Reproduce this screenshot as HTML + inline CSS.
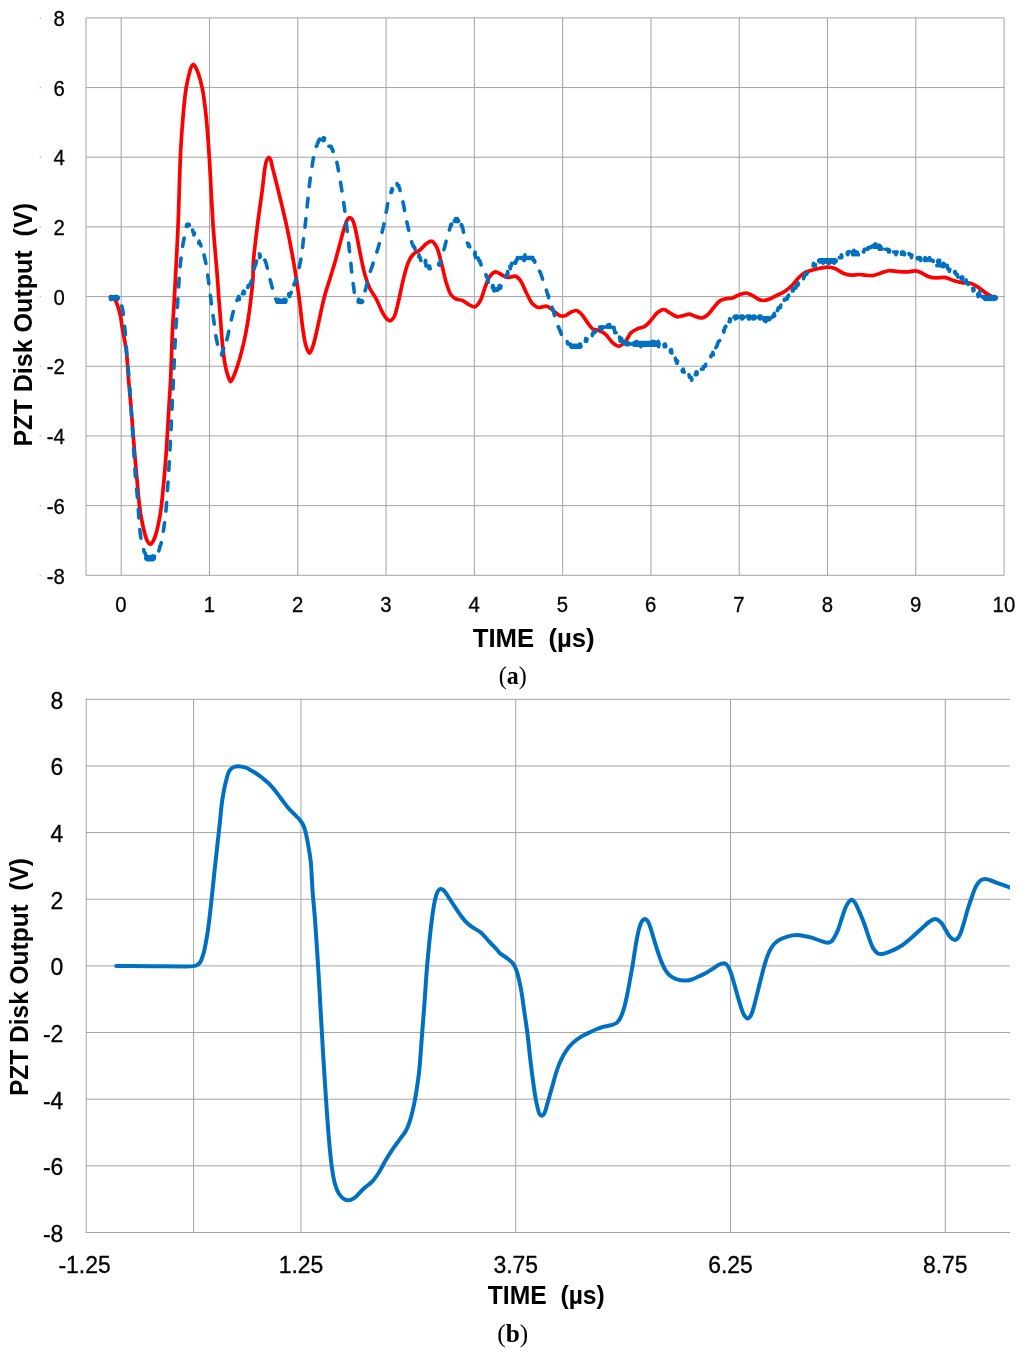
<!DOCTYPE html>
<html lang="en"><head><meta charset="utf-8"><title>PZT Disk Output</title>
<style>html,body{margin:0;padding:0;background:#fff}svg{display:block}</style></head>
<body>
<svg width="1024" height="1357" viewBox="0 0 1024 1357">
<rect width="1024" height="1357" fill="#fff"/>
<path d="M86.00 575.32H1004.10M86.00 505.64H1004.10M86.00 435.96H1004.10M86.00 366.28H1004.10M86.00 296.60H1004.10M86.00 226.92H1004.10M86.00 157.24H1004.10M86.00 87.56H1004.10M86.00 17.88H1004.10M121.20 17.90V575.30M209.49 17.90V575.30M297.78 17.90V575.30M386.07 17.90V575.30M474.36 17.90V575.30M562.65 17.90V575.30M650.94 17.90V575.30M739.23 17.90V575.30M827.52 17.90V575.30M915.81 17.90V575.30M1004.10 17.90V575.30M86.00 17.90V575.30" fill="none" stroke="#a3a3a3" stroke-width="1"/>
<path d="M86.00 1232.50H1010.00M86.00 1165.85H1010.00M86.00 1099.20H1010.00M86.00 1032.55H1010.00M86.00 965.90H1010.00M86.00 899.25H1010.00M86.00 832.60H1010.00M86.00 765.95H1010.00M86.00 699.30H1010.00M86.22 699.30V1232.50M193.60 699.30V1232.50M300.98 699.30V1232.50M515.73 699.30V1232.50M730.48 699.30V1232.50M945.23 699.30V1232.50" fill="none" stroke="#a3a3a3" stroke-width="1"/>
<clipPath id="cb"><rect x="86.0" y="694.3" width="924.0" height="543.2"/></clipPath>
<path d="M110.3 296.8C111.2 297.2 112.2 297.4 113.0 298.0C113.9 298.6 114.8 299.4 115.5 300.5C116.5 302.1 117.2 304.6 118.0 307.0C118.9 309.7 119.8 312.8 120.5 316.0C121.3 319.7 121.5 323.4 122.3 328.0C123.3 334.2 125.2 342.1 126.2 350.0C127.4 359.2 127.8 370.3 128.6 380.0C129.4 389.1 130.2 397.5 131.0 406.5C131.8 415.9 132.5 426.2 133.2 435.4C133.9 443.8 134.5 451.4 135.2 459.6C135.9 468.2 136.8 478.0 137.6 486.1C138.2 493.0 138.7 499.2 139.4 505.1C140.0 510.2 140.7 514.7 141.6 519.3C142.4 523.8 143.5 528.7 144.5 532.5C145.3 535.5 146.0 538.4 147.1 540.5C148.0 542.1 149.1 544.2 150.2 544.2C151.3 544.2 152.6 542.1 153.5 540.5C154.7 538.4 155.5 535.5 156.4 532.5C157.5 528.7 158.5 523.8 159.3 519.3C160.2 514.7 160.9 510.2 161.5 505.1C162.2 499.2 162.8 493.0 163.4 486.1C164.2 478.0 165.0 468.2 165.7 459.6C166.3 451.4 166.8 443.8 167.3 435.4C167.9 426.2 168.4 415.9 169.0 406.5C169.5 397.5 170.1 390.2 170.6 380.0C171.3 366.0 171.8 345.0 172.5 330.0C173.1 317.6 173.8 309.5 174.5 296.2C175.5 277.3 177.0 250.7 178.0 227.0C179.1 202.0 179.6 171.1 180.7 150.0C181.5 135.3 182.4 123.7 183.4 112.5C184.2 103.4 185.0 95.0 186.2 87.9C187.1 82.4 188.3 77.2 189.3 73.4C190.0 70.8 190.4 68.6 191.2 67.0C191.8 65.8 192.5 64.3 193.2 64.3C193.9 64.3 194.8 65.8 195.5 67.0C196.5 68.6 197.4 70.8 198.3 73.4C199.6 77.2 201.1 82.4 202.2 87.9C203.7 95.0 204.7 103.4 205.7 112.5C207.0 123.7 207.8 135.3 208.8 150.0C210.3 171.1 211.7 205.1 213.2 227.0C214.4 243.4 215.8 257.4 216.8 270.0C217.6 279.8 218.1 288.0 218.7 296.3C219.3 303.9 219.9 310.9 220.4 317.9C220.9 324.5 221.3 331.0 221.8 337.0C222.3 342.4 222.7 347.4 223.3 352.4C223.9 357.1 224.6 362.0 225.4 366.1C226.1 369.5 226.8 372.7 227.8 375.4C228.6 377.7 229.6 381.6 230.7 381.6C231.7 381.6 233.0 377.7 234.0 375.4C235.2 372.7 236.3 369.5 237.4 366.1C238.7 362.0 240.2 357.1 241.4 352.4C242.7 347.4 243.9 342.4 245.0 337.0C246.2 331.0 247.4 324.5 248.4 317.9C249.5 310.9 250.4 303.0 251.2 296.3C251.9 290.4 252.5 285.2 252.9 279.6C253.3 274.0 252.9 269.4 253.3 262.7C254.0 252.9 255.8 238.7 257.3 226.6C258.8 214.2 261.0 199.9 262.4 189.0C263.5 180.7 264.1 172.2 265.1 166.9C265.6 163.9 266.0 161.7 266.8 160.0C267.4 158.8 268.1 157.3 268.8 157.3C269.4 157.3 270.1 158.5 270.6 159.5C271.4 161.2 271.7 164.4 272.3 166.9C272.9 169.3 273.5 171.3 274.2 174.2C275.2 178.3 276.4 182.9 277.9 189.0C280.3 198.7 284.1 214.2 286.8 226.6C289.4 238.7 291.6 250.8 293.7 262.7C295.7 274.2 297.4 285.4 299.0 296.7C300.5 307.8 301.6 320.9 303.0 330.0C304.0 336.3 304.6 341.8 306.0 346.0C307.0 349.0 308.3 353.2 309.5 353.2C310.7 353.2 311.9 349.0 313.0 346.0C314.5 341.8 315.5 336.3 317.0 330.0C319.1 320.9 321.9 306.2 324.4 296.7C326.3 289.4 328.5 283.5 330.3 277.5C331.9 272.2 333.3 267.9 334.8 262.7C336.4 257.1 338.0 251.0 339.6 245.0C341.3 238.9 343.1 231.3 344.7 226.6C345.7 223.6 346.4 221.0 347.5 219.5C348.2 218.6 348.9 217.6 349.7 217.6C350.5 217.6 351.6 218.5 352.3 219.5C353.5 221.2 354.1 224.1 355.0 227.5C356.6 233.5 358.3 244.4 360.0 252.5C361.6 260.2 363.1 268.5 365.0 275.0C366.5 280.2 368.0 284.6 370.0 288.8C371.8 292.5 374.3 295.1 376.2 298.8C378.5 302.9 380.3 308.8 382.5 312.5C384.1 315.3 386.0 318.2 387.5 319.5C388.4 320.2 389.1 320.8 390.0 320.8C391.2 320.8 392.6 319.3 393.8 317.5C395.9 314.1 397.2 306.2 398.8 300.0C400.5 293.0 401.9 284.4 403.8 277.5C405.3 271.6 406.7 265.5 408.8 261.2C410.2 258.1 411.7 255.7 413.8 253.8C415.6 252.0 418.0 251.6 420.0 250.0C422.2 248.3 424.2 245.3 426.2 243.8C427.9 242.6 429.7 241.2 431.2 241.2C433.0 241.2 434.8 243.9 436.2 246.2C438.5 249.9 439.7 256.8 441.2 262.5C443.0 268.8 444.4 276.7 446.2 282.5C447.8 287.2 449.1 292.2 451.2 295.0C452.7 297.0 454.4 298.1 456.2 299.0C458.1 299.9 460.5 299.6 462.5 300.5C464.7 301.4 466.7 303.4 468.8 304.5C470.6 305.5 472.5 307.0 474.2 307.0C476.3 307.0 478.4 303.8 480.0 301.2C482.2 297.8 483.3 291.8 485.0 287.5C486.6 283.5 487.9 279.0 490.0 276.2C491.6 274.2 493.6 271.8 495.5 271.8C497.3 271.8 499.3 273.6 501.2 274.5C503.3 275.5 505.3 277.5 507.5 277.5C509.8 277.5 512.8 276.2 515.0 276.2C517.0 276.2 518.4 278.1 520.0 280.0C522.3 282.8 524.1 288.5 526.2 292.5C528.3 296.4 530.0 301.2 532.5 303.8C534.4 305.7 536.5 307.5 538.8 307.5C541.1 307.5 543.9 306.2 546.2 306.2C548.5 306.2 550.4 308.5 552.5 310.0C554.9 311.7 557.6 314.9 560.0 315.8C561.7 316.3 563.3 316.2 565.0 315.8C567.0 315.2 569.2 312.9 571.2 312.0C573.0 311.2 574.6 310.5 576.2 310.5C578.0 310.5 579.6 312.2 581.2 313.8C583.4 315.8 585.5 319.9 587.5 322.5C589.2 324.8 590.5 327.4 592.5 328.8C594.3 329.9 596.7 329.7 598.8 330.5C600.9 331.3 603.0 332.1 605.0 333.8C607.6 335.8 609.9 340.3 612.5 342.5C614.5 344.2 616.7 346.2 618.8 346.2C620.9 346.2 623.1 343.9 625.0 342.0C627.3 339.6 628.9 334.8 631.2 332.5C633.1 330.7 635.3 329.8 637.5 328.8C639.8 327.7 642.8 327.6 645.0 326.2C647.4 324.8 649.2 322.2 651.2 320.0C653.4 317.7 655.2 314.3 657.5 312.5C659.4 311.0 661.7 309.5 663.8 309.5C665.9 309.5 667.8 311.8 670.0 313.0C672.4 314.3 675.1 316.8 677.5 316.8C679.6 316.8 681.7 315.9 683.8 315.5C685.6 315.1 687.4 314.2 689.2 314.2C691.2 314.2 693.0 315.6 695.0 316.2C697.0 316.9 699.2 318.0 701.2 318.0C703.4 318.0 705.6 316.5 707.5 315.0C709.8 313.2 711.6 309.9 713.8 307.5C715.8 305.2 717.7 302.2 720.0 300.8C721.9 299.5 724.1 299.2 726.2 298.8C728.3 298.3 730.4 298.6 732.5 298.0C734.9 297.3 737.6 295.3 740.0 294.5C742.1 293.8 744.2 293.0 746.2 293.0C748.4 293.0 750.5 294.5 752.5 295.5C754.6 296.6 756.7 298.7 758.8 299.5C760.4 300.2 762.0 300.5 763.8 300.5C765.7 300.5 767.9 299.6 770.0 298.8C772.4 297.8 775.0 296.2 777.5 295.0C780.0 293.8 782.6 292.8 785.0 291.2C787.6 289.5 790.2 287.3 792.5 285.0C794.8 282.7 796.6 279.7 798.8 277.5C800.7 275.5 802.7 273.8 805.0 272.5C807.3 271.3 810.0 270.7 812.5 270.0C815.0 269.3 817.4 268.7 820.0 268.2C822.6 267.8 825.4 267.2 828.0 267.2C830.4 267.2 832.6 267.7 835.0 268.6C837.8 269.6 840.7 272.3 843.8 273.4C846.6 274.4 849.8 275.2 852.5 275.2C854.8 275.2 856.8 274.5 859.0 274.5C861.2 274.5 863.4 275.0 865.6 275.2C867.8 275.4 869.9 275.6 872.2 275.6C874.9 275.6 878.0 273.8 880.9 273.0C883.8 272.2 886.8 270.6 889.7 270.6C892.6 270.6 895.5 271.5 898.4 271.7C901.3 271.9 904.4 271.9 907.2 271.9C909.8 271.9 912.5 270.8 914.8 270.8C916.8 270.8 918.3 271.5 920.3 272.3C922.9 273.3 926.2 275.8 929.0 276.7C931.3 277.5 933.2 277.8 935.6 277.8C938.3 277.8 941.5 277.4 944.4 277.4C947.3 277.4 950.2 279.5 953.1 280.4C956.0 281.3 959.0 282.1 961.9 282.6C964.8 283.1 968.0 282.6 970.6 283.3C973.0 284.0 974.9 285.2 977.2 286.6C980.0 288.3 983.2 291.3 986.0 293.1C988.3 294.6 990.6 296.0 992.5 296.8C993.9 297.4 995.0 297.5 996.2 297.9" fill="none" stroke="#ff0000" stroke-width="3.7" stroke-linecap="round" stroke-linejoin="round"/>
<path d="M110.5 299.4L110.9 296.6L111.4 299.4L111.8 296.6L112.3 296.6L112.7 296.6L113.1 296.6L113.6 296.6L114.0 296.6L114.5 302.2L114.9 296.6L115.4 296.6L115.8 296.6L116.2 296.6L116.7 296.6L117.1 296.6L117.6 299.4L118.0 296.6L118.4 299.4L118.9 299.4L119.3 299.4L119.8 301.9L120.2 302.1L120.6 302.6L121.1 304.4L121.5 305.5L122.0 306.9L122.4 308.6L122.9 310.9L123.3 314.7L123.7 319.5L124.2 323.0L124.6 326.5L125.1 330.7L125.5 335.9L125.9 341.8L126.4 348.0L126.8 354.1L127.3 359.6L127.7 364.5L128.2 368.8L128.6 373.2L129.0 378.0L129.5 383.6L129.9 389.8L130.4 396.4L130.8 403.3L131.2 410.3L131.7 417.5L132.1 424.6L132.6 431.7L133.0 438.6L133.4 445.8L133.9 453.1L134.3 460.3L134.8 466.9L135.2 473.0L135.7 478.3L136.1 483.2L136.5 487.9L137.0 492.5L137.4 497.1L137.9 502.1L138.3 508.0L138.7 516.1L139.2 523.4L139.6 528.1L140.1 531.9L140.5 535.1L140.9 537.8L141.4 540.2L141.8 542.3L142.3 544.3L142.7 546.0L143.2 547.6L143.6 548.7L144.0 551.4L144.5 552.4L144.9 553.0L145.4 553.4L145.8 555.6L146.2 555.7L146.7 558.4L147.1 558.5L147.6 558.5L148.0 558.5L148.5 558.5L148.9 558.5L149.3 561.3L149.8 558.5L150.2 558.5L150.7 558.5L151.1 558.5L151.5 558.5L152.0 558.5L152.4 555.7L152.9 558.5L153.3 558.5L153.7 558.5L154.2 558.5L154.6 555.7L155.1 555.7L155.5 555.7L156.0 555.7L156.4 553.0L156.8 553.0L157.3 552.9L157.7 552.7L158.2 550.3L158.6 552.2L159.0 549.8L159.5 549.2L159.9 546.1L160.4 545.6L160.8 544.5L161.2 542.8L161.7 540.8L162.1 538.4L162.6 535.7L163.0 533.0L163.5 530.4L163.9 527.5L164.3 524.5L164.8 521.1L165.2 517.4L165.7 513.3L166.1 508.6L166.5 503.3L167.0 497.1L167.4 490.3L167.9 483.6L168.3 476.9L168.8 470.1L169.2 463.0L169.6 455.5L170.1 447.5L170.5 439.0L171.0 430.3L171.4 421.1L171.8 411.9L172.3 402.8L172.7 393.9L173.2 384.9L173.6 375.6L174.0 365.7L174.5 355.7L174.9 346.0L175.4 337.0L175.8 328.9L176.3 322.1L176.7 316.0L177.1 310.0L177.6 303.9L178.0 297.0L178.5 289.8L178.9 282.7L179.3 276.1L179.8 270.3L180.2 265.2L180.7 261.0L181.1 257.1L181.5 253.5L182.0 250.3L182.4 247.4L182.9 244.7L183.3 242.2L183.8 240.0L184.2 237.6L184.6 234.9L185.1 232.3L185.5 229.9L186.0 228.0L186.4 226.4L186.8 224.5L187.3 226.3L187.7 224.1L188.2 224.2L188.6 224.2L189.1 224.2L189.5 227.0L189.9 227.0L190.4 229.7L190.8 227.0L191.3 227.0L191.7 229.6L192.1 229.7L192.6 229.8L193.0 232.3L193.5 232.5L193.9 235.0L194.3 232.7L194.8 235.2L195.2 235.3L195.7 235.4L196.1 235.4L196.6 235.5L197.0 238.1L197.4 240.7L197.9 240.8L198.3 240.8L198.8 243.4L199.2 241.0L199.6 243.5L200.1 243.7L200.5 243.9L201.0 246.1L201.4 245.0L201.8 248.5L202.3 249.2L202.7 251.0L203.2 252.0L203.6 253.4L204.1 255.2L204.5 257.0L204.9 258.9L205.4 260.9L205.8 262.9L206.3 265.1L206.7 267.4L207.1 270.3L207.6 273.7L208.0 277.2L208.5 280.4L208.9 283.8L209.4 287.3L209.8 290.8L210.2 294.3L210.7 297.6L211.1 301.0L211.6 304.3L212.0 307.6L212.4 310.9L212.9 314.1L213.3 317.3L213.8 320.6L214.2 324.0L214.6 327.4L215.1 330.7L215.5 333.7L216.0 336.3L216.4 338.7L216.9 341.1L217.3 343.3L217.7 345.3L218.2 347.0L218.6 347.9L219.1 349.6L219.5 351.9L219.9 352.2L220.4 352.3L220.8 352.3L221.3 352.3L221.7 355.1L222.1 352.3L222.6 352.3L223.0 349.6L223.5 349.5L223.9 347.4L224.4 348.7L224.8 346.6L225.2 344.7L225.7 343.9L226.1 342.1L226.6 340.9L227.0 339.3L227.4 337.4L227.9 335.4L228.3 333.4L228.8 331.3L229.2 329.3L229.7 327.2L230.1 325.2L230.5 323.2L231.0 321.3L231.4 319.4L231.9 317.4L232.3 315.5L232.7 313.8L233.2 311.9L233.6 310.5L234.1 308.7L234.5 307.6L234.9 305.6L235.4 304.8L235.8 304.1L236.3 302.1L236.7 301.8L237.2 299.5L237.6 299.3L238.0 299.3L238.5 296.6L238.9 296.6L239.4 299.4L239.8 296.6L240.2 296.6L240.7 296.6L241.1 296.6L241.6 293.8L242.0 291.0L242.4 293.8L242.9 293.8L243.3 291.0L243.8 291.0L244.2 293.8L244.7 291.0L245.1 291.0L245.5 291.0L246.0 291.0L246.4 288.2L246.9 291.0L247.3 291.0L247.7 288.2L248.2 285.6L248.6 285.6L249.1 285.5L249.5 285.4L250.0 285.1L250.4 283.0L250.8 282.5L251.3 281.6L251.7 279.7L252.2 277.7L252.6 275.6L253.0 273.5L253.5 271.8L253.9 269.9L254.4 267.9L254.8 266.5L255.2 265.5L255.7 264.7L256.1 262.9L256.6 260.8L257.0 260.3L257.5 260.1L257.9 257.7L258.3 257.6L258.8 254.8L259.2 252.0L259.7 257.6L260.1 254.8L260.5 257.6L261.0 254.8L261.4 254.8L261.9 254.8L262.3 254.8L262.7 254.8L263.2 257.6L263.6 257.5L264.1 257.7L264.5 259.9L265.0 260.3L265.4 260.9L265.8 262.7L266.3 263.8L266.7 266.0L267.2 267.4L267.6 269.5L268.0 271.5L268.5 273.5L268.9 275.3L269.4 277.0L269.8 278.7L270.3 280.3L270.7 282.1L271.1 283.0L271.6 285.2L272.0 287.0L272.5 288.2L272.9 289.3L273.3 291.1L273.8 293.1L274.2 294.2L274.7 294.8L275.1 296.8L275.5 299.1L276.0 299.3L276.4 299.4L276.9 302.2L277.3 302.2L277.8 299.4L278.2 299.4L278.6 302.2L279.1 302.2L279.5 302.2L280.0 302.2L280.4 302.2L280.8 302.2L281.3 302.2L281.7 302.2L282.2 299.4L282.6 302.2L283.0 302.2L283.5 302.2L283.9 302.2L284.4 299.4L284.8 299.4L285.3 299.4L285.7 302.2L286.1 299.4L286.6 299.4L287.0 296.6L287.5 296.6L287.9 299.3L288.3 296.6L288.8 293.9L289.2 296.5L289.7 296.4L290.1 293.8L290.6 293.7L291.0 293.5L291.4 291.0L291.9 290.8L292.3 288.5L292.8 290.3L293.2 287.9L293.6 287.5L294.1 283.7L294.5 284.8L295.0 282.8L295.4 280.9L295.8 280.1L296.3 279.1L296.7 277.2L297.2 275.5L297.6 274.0L298.1 272.3L298.5 270.5L298.9 268.7L299.4 266.8L299.8 264.7L300.3 262.5L300.7 260.1L301.1 257.6L301.6 254.9L302.0 251.8L302.5 248.4L302.9 244.6L303.3 240.7L303.8 237.0L304.2 233.2L304.7 229.4L305.1 225.6L305.6 221.6L306.0 217.6L306.4 213.4L306.9 209.1L307.3 204.7L307.8 200.5L308.2 196.4L308.6 192.3L309.1 188.2L309.5 184.3L310.0 180.5L310.4 177.0L310.9 173.9L311.3 170.9L311.7 168.0L312.2 165.3L312.6 162.7L313.1 160.2L313.5 157.9L313.9 155.8L314.4 153.9L314.8 152.0L315.3 150.0L315.7 148.6L316.1 146.7L316.6 145.9L317.0 145.5L317.5 143.5L317.9 143.2L318.4 140.7L318.8 140.6L319.2 140.6L319.7 137.8L320.1 140.6L320.6 137.8L321.0 137.8L321.4 137.8L321.9 137.8L322.3 140.6L322.8 140.6L323.2 137.8L323.6 137.8L324.1 140.6L324.5 137.8L325.0 137.8L325.4 140.6L325.9 140.6L326.3 140.6L326.7 143.4L327.2 143.4L327.6 143.4L328.1 143.4L328.5 143.4L328.9 146.2L329.4 146.2L329.8 146.2L330.3 146.2L330.7 146.2L331.1 146.2L331.6 148.9L332.0 148.9L332.5 149.0L332.9 151.4L333.4 151.5L333.8 151.8L334.2 152.3L334.7 154.3L335.1 155.3L335.6 157.2L336.0 158.8L336.4 160.5L336.9 162.3L337.3 164.5L337.8 166.8L338.2 169.2L338.7 171.7L339.1 174.2L339.5 176.6L340.0 179.1L340.4 181.7L340.9 184.3L341.3 186.9L341.7 189.6L342.2 192.4L342.6 195.2L343.1 198.2L343.5 201.2L343.9 204.3L344.4 207.6L344.8 210.9L345.3 214.3L345.7 217.8L346.2 221.4L346.6 225.2L347.0 229.1L347.5 233.1L347.9 237.0L348.4 240.8L348.8 244.6L349.2 248.4L349.7 252.2L350.1 256.1L350.6 260.3L351.0 264.7L351.4 269.2L351.9 273.3L352.3 277.0L352.8 280.4L353.2 284.0L353.7 287.3L354.1 290.4L354.5 293.0L355.0 295.1L355.4 296.8L355.9 298.6L356.3 299.5L356.7 299.6L357.2 302.2L357.6 302.2L358.1 302.2L358.5 299.4L359.0 299.4L359.4 302.2L359.8 302.2L360.3 302.2L360.7 302.2L361.2 302.2L361.6 302.2L362.0 302.1L362.5 301.7L362.9 299.4L363.4 298.5L363.8 296.2L364.2 294.1L364.7 292.2L365.1 290.8L365.6 289.4L366.0 287.7L366.5 285.7L366.9 284.1L367.3 282.5L367.8 280.9L368.2 279.1L368.7 277.3L369.1 275.4L369.5 274.1L370.0 272.3L370.4 271.2L370.9 269.4L371.3 268.5L371.7 267.7L372.2 265.9L372.6 265.2L373.1 263.2L373.5 262.5L374.0 260.6L374.4 259.9L374.8 259.1L375.3 257.2L375.7 255.3L376.2 254.5L376.6 252.7L377.0 251.7L377.5 249.8L377.9 248.7L378.4 246.9L378.8 245.5L379.3 243.7L379.7 241.9L380.1 240.3L380.6 238.5L381.0 236.7L381.5 234.8L381.9 233.0L382.3 231.1L382.8 229.2L383.2 227.3L383.7 225.4L384.1 223.4L384.5 221.2L385.0 218.9L385.4 216.5L385.9 214.0L386.3 211.4L386.8 208.9L387.2 206.5L387.6 204.2L388.1 202.1L388.5 200.2L389.0 198.4L389.4 197.2L389.8 195.7L390.3 195.0L390.7 193.2L391.2 191.2L391.6 192.4L392.0 188.5L392.5 190.1L392.9 187.9L393.4 187.9L393.8 185.2L394.3 185.2L394.7 185.2L395.1 185.2L395.6 185.2L396.0 185.2L396.5 185.2L396.9 182.4L397.3 185.2L397.8 185.2L398.2 185.2L398.7 185.4L399.1 187.9L399.6 188.2L400.0 190.1L400.4 191.8L400.9 192.9L401.3 194.8L401.8 196.8L402.2 198.7L402.6 200.6L403.1 202.6L403.5 204.7L404.0 206.9L404.4 209.3L404.8 211.7L405.3 214.1L405.7 216.5L406.2 218.8L406.6 221.0L407.1 223.1L407.5 225.0L407.9 226.8L408.4 228.7L408.8 230.6L409.3 232.5L409.7 234.4L410.1 236.1L410.6 237.9L411.0 239.7L411.5 241.0L411.9 242.9L412.3 243.8L412.8 244.4L413.2 246.4L413.7 246.8L414.1 247.0L414.6 247.1L415.0 249.4L415.4 251.9L415.9 252.0L416.3 252.0L416.8 252.1L417.2 254.8L417.6 254.8L418.1 254.8L418.5 257.6L419.0 254.8L419.4 257.6L419.9 257.6L420.3 257.6L420.7 260.4L421.2 260.4L421.6 257.6L422.1 260.4L422.5 260.4L422.9 260.4L423.4 260.4L423.8 260.4L424.3 263.2L424.7 263.2L425.1 263.2L425.6 260.4L426.0 266.0L426.5 260.4L426.9 263.2L427.4 266.0L427.8 266.0L428.2 266.0L428.7 266.0L429.1 268.7L429.6 266.0L430.0 268.7L430.4 268.7L430.9 268.7L431.3 268.7L431.8 268.7L432.2 268.7L432.6 268.7L433.1 268.7L433.5 268.7L434.0 268.7L434.4 268.7L434.9 268.7L435.3 268.7L435.7 268.7L436.2 268.7L436.6 266.0L437.1 266.0L437.5 266.0L437.9 266.0L438.4 266.0L438.8 263.2L439.3 263.3L439.7 265.3L440.2 261.2L440.6 260.9L441.0 259.1L441.5 258.3L441.9 256.4L442.4 255.1L442.8 253.2L443.2 251.8L443.7 250.5L444.1 248.8L444.6 247.6L445.0 245.8L445.4 244.0L445.9 242.2L446.3 240.4L446.8 239.1L447.2 237.8L447.7 236.0L448.1 234.8L448.5 233.6L449.0 231.9L449.4 230.1L449.9 228.0L450.3 226.9L450.7 224.8L451.2 226.0L451.6 224.0L452.1 221.5L452.5 221.4L452.9 221.4L453.4 218.6L453.8 221.4L454.3 221.4L454.7 221.4L455.2 221.4L455.6 218.6L456.0 218.6L456.5 221.4L456.9 221.4L457.4 218.6L457.8 221.4L458.2 221.4L458.7 224.2L459.1 224.2L459.6 224.2L460.0 224.2L460.5 224.2L460.9 226.8L461.3 224.6L461.8 225.0L462.2 227.4L462.7 227.9L463.1 230.1L463.5 232.2L464.0 232.9L464.4 235.0L464.9 235.8L465.3 237.8L465.7 238.4L466.2 240.4L466.6 240.9L467.1 241.2L467.5 243.4L468.0 243.7L468.4 246.1L468.8 244.1L469.3 246.5L469.7 246.6L470.2 249.1L470.6 249.2L471.0 249.3L471.5 249.2L471.9 252.0L472.4 252.0L472.8 252.0L473.2 254.8L473.7 254.8L474.1 254.8L474.6 254.8L475.0 252.0L475.5 257.6L475.9 254.8L476.3 254.8L476.8 257.6L477.2 254.9L477.7 257.6L478.1 257.7L478.5 260.3L479.0 260.4L479.4 260.5L479.9 260.7L480.3 263.2L480.8 263.3L481.2 265.7L481.6 265.9L482.1 266.1L482.5 266.4L483.0 268.7L483.4 271.0L483.8 271.3L484.3 271.6L484.7 273.8L485.2 274.2L485.6 274.5L486.0 274.8L486.5 277.0L486.9 277.3L487.4 277.6L487.8 279.8L488.3 282.2L488.7 280.3L489.1 282.7L489.6 282.8L490.0 285.3L490.5 285.4L490.9 285.5L491.3 285.5L491.8 288.2L492.2 288.2L492.7 285.5L493.1 285.5L493.5 288.2L494.0 291.0L494.4 291.0L494.9 291.0L495.3 288.2L495.8 288.2L496.2 291.0L496.6 291.0L497.1 291.0L497.5 288.2L498.0 288.2L498.4 288.2L498.8 288.2L499.3 285.5L499.7 285.5L500.2 285.5L500.6 288.2L501.1 285.5L501.5 282.7L501.9 282.7L502.4 282.7L502.8 282.6L503.3 280.2L503.7 280.1L504.1 279.9L504.6 279.6L505.0 277.3L505.5 277.0L505.9 276.8L506.3 276.6L506.8 274.2L507.2 274.1L507.7 271.6L508.1 273.8L508.6 269.0L509.0 271.3L509.4 268.8L509.9 266.2L510.3 268.6L510.8 266.0L511.2 266.0L511.6 263.2L512.1 266.0L512.5 263.2L513.0 263.2L513.4 263.2L513.8 263.2L514.3 260.4L514.7 263.2L515.2 263.2L515.6 263.2L516.1 260.4L516.5 260.4L516.9 260.4L517.4 257.6L517.8 257.6L518.3 257.6L518.7 257.6L519.1 260.4L519.6 260.4L520.0 257.6L520.5 257.6L520.9 257.6L521.4 257.6L521.8 257.6L522.2 257.6L522.7 257.6L523.1 257.6L523.6 257.6L524.0 260.4L524.4 260.4L524.9 254.8L525.3 260.4L525.8 257.6L526.2 257.6L526.6 257.6L527.1 257.6L527.5 257.6L528.0 257.6L528.4 257.6L528.9 257.6L529.3 257.6L529.7 257.6L530.2 257.6L530.6 257.6L531.1 257.6L531.5 257.6L531.9 257.6L532.4 257.6L532.8 257.6L533.3 260.4L533.7 260.4L534.1 260.4L534.6 260.4L535.0 263.2L535.5 263.2L535.9 263.2L536.4 263.2L536.8 263.3L537.2 265.9L537.7 266.0L538.1 266.3L538.6 268.6L539.0 268.9L539.4 271.1L539.9 271.5L540.3 272.0L540.8 274.1L541.2 274.6L541.7 276.6L542.1 277.2L542.5 279.1L543.0 279.9L543.4 280.7L543.9 282.6L544.3 284.5L544.7 285.4L545.2 287.3L545.6 288.1L546.1 289.0L546.5 290.9L546.9 291.7L547.4 293.6L547.8 295.5L548.3 295.2L548.7 298.2L549.2 297.9L549.6 299.8L550.0 301.7L550.5 303.6L550.9 304.4L551.4 304.1L551.8 306.0L552.2 307.9L552.7 308.7L553.1 310.6L553.6 311.4L554.0 313.3L554.4 315.3L554.9 316.0L555.3 316.8L555.8 318.7L556.2 319.5L556.7 321.4L557.1 322.2L557.5 324.1L558.0 326.1L558.4 326.9L558.9 327.6L559.3 329.6L559.7 330.1L560.2 330.5L560.6 332.7L561.1 333.0L561.5 335.3L561.9 335.5L562.4 335.6L562.8 338.3L563.3 338.4L563.7 338.4L564.2 338.4L564.6 338.4L565.0 338.4L565.5 341.2L565.9 341.2L566.4 341.2L566.8 341.2L567.2 341.2L567.7 344.0L568.1 344.0L568.6 344.0L569.0 344.0L569.5 344.0L569.9 344.0L570.3 344.0L570.8 346.7L571.2 346.7L571.7 346.7L572.1 344.0L572.5 344.0L573.0 344.0L573.4 346.7L573.9 346.7L574.3 346.7L574.7 346.7L575.2 346.7L575.6 346.7L576.1 346.7L576.5 346.7L577.0 346.7L577.4 346.7L577.8 346.7L578.3 346.7L578.7 346.7L579.2 346.7L579.6 344.0L580.0 346.7L580.5 344.0L580.9 346.7L581.4 344.0L581.8 344.0L582.2 344.0L582.7 344.0L583.1 344.0L583.6 344.0L584.0 341.2L584.5 341.2L584.9 341.2L585.3 341.2L585.8 338.4L586.2 341.2L586.7 341.2L587.1 338.4L587.5 338.4L588.0 338.4L588.4 338.4L588.9 338.4L589.3 338.4L589.8 335.6L590.2 335.6L590.6 335.6L591.1 335.6L591.5 332.8L592.0 332.8L592.4 335.6L592.8 332.8L593.3 332.8L593.7 332.8L594.2 332.8L594.6 332.8L595.0 332.8L595.5 330.0L595.9 330.0L596.4 327.2L596.8 330.0L597.3 330.0L597.7 327.2L598.1 327.2L598.6 327.2L599.0 327.2L599.5 327.2L599.9 327.2L600.3 327.2L600.8 327.2L601.2 327.2L601.7 330.0L602.1 327.2L602.5 327.2L603.0 327.2L603.4 327.2L603.9 327.2L604.3 324.5L604.8 324.5L605.2 327.2L605.6 327.2L606.1 327.2L606.5 327.2L607.0 327.2L607.4 327.2L607.8 324.5L608.3 327.2L608.7 327.2L609.2 327.2L609.6 324.5L610.1 327.2L610.5 324.5L610.9 327.2L611.4 327.2L611.8 327.2L612.3 327.2L612.7 327.2L613.1 330.0L613.6 327.2L614.0 327.2L614.5 330.0L614.9 332.8L615.3 332.8L615.8 332.8L616.2 332.8L616.7 332.8L617.1 332.8L617.6 332.8L618.0 335.6L618.4 335.6L618.9 338.4L619.3 335.6L619.8 338.4L620.2 341.2L620.6 338.4L621.1 338.4L621.5 338.4L622.0 341.2L622.4 344.0L622.8 341.2L623.3 344.0L623.7 341.2L624.2 344.0L624.6 344.0L625.1 341.2L625.5 344.0L625.9 344.0L626.4 344.0L626.8 344.0L627.3 344.0L627.7 346.7L628.1 344.0L628.6 344.0L629.0 344.0L629.5 344.0L629.9 344.0L630.4 344.0L630.8 344.0L631.2 344.0L631.7 344.0L632.1 344.0L632.6 344.0L633.0 344.0L633.4 344.0L633.9 344.0L634.3 344.0L634.8 344.0L635.2 344.0L635.6 344.0L636.1 344.0L636.5 341.2L637.0 344.0L637.4 344.0L637.9 344.0L638.3 344.0L638.7 344.0L639.2 344.0L639.6 346.7L640.1 344.0L640.5 344.0L640.9 346.7L641.4 344.0L641.8 344.0L642.3 344.0L642.7 344.0L643.1 344.0L643.6 344.0L644.0 344.0L644.5 344.0L644.9 344.0L645.4 344.0L645.8 344.0L646.2 344.0L646.7 341.2L647.1 344.0L647.6 344.0L648.0 344.0L648.4 344.0L648.9 344.0L649.3 344.0L649.8 344.0L650.2 344.0L650.7 344.0L651.1 344.0L651.5 344.0L652.0 344.0L652.4 341.2L652.9 344.0L653.3 344.0L653.7 344.0L654.2 344.0L654.6 341.2L655.1 344.0L655.5 344.0L655.9 341.2L656.4 344.0L656.8 344.0L657.3 344.0L657.7 344.0L658.2 341.2L658.6 346.7L659.0 344.0L659.5 344.0L659.9 344.0L660.4 344.0L660.8 346.7L661.2 344.0L661.7 344.0L662.1 344.0L662.6 344.0L663.0 344.0L663.4 344.0L663.9 344.0L664.3 346.7L664.8 344.0L665.2 344.0L665.7 346.7L666.1 344.0L666.5 344.0L667.0 346.7L667.4 346.7L667.9 346.7L668.3 346.7L668.7 346.7L669.2 346.7L669.6 346.7L670.1 346.7L670.5 352.3L671.0 349.6L671.4 349.6L671.8 352.3L672.3 355.0L672.7 352.4L673.2 355.0L673.6 355.1L674.0 355.2L674.5 357.8L674.9 357.9L675.4 358.0L675.8 360.5L676.2 360.6L676.7 363.1L677.1 363.2L677.6 360.9L678.0 363.4L678.5 363.5L678.9 363.6L679.3 366.2L679.8 366.3L680.2 366.3L680.7 369.0L681.1 369.0L681.5 369.0L682.0 369.0L682.4 371.8L682.9 371.8L683.3 369.0L683.7 371.8L684.2 371.8L684.6 374.6L685.1 374.6L685.5 374.6L686.0 374.6L686.4 374.6L686.8 374.6L687.3 374.6L687.7 374.6L688.2 377.4L688.6 377.4L689.0 374.6L689.5 377.4L689.9 377.4L690.4 377.4L690.8 377.4L691.3 377.4L691.7 380.2L692.1 377.4L692.6 377.4L693.0 377.4L693.5 377.4L693.9 374.6L694.3 374.6L694.8 377.4L695.2 374.6L695.7 374.6L696.1 371.8L696.5 371.8L697.0 374.6L697.4 371.8L697.9 371.8L698.3 371.8L698.8 371.8L699.2 371.8L699.6 371.8L700.1 371.8L700.5 369.0L701.0 371.8L701.4 369.0L701.8 369.0L702.3 369.0L702.7 369.0L703.2 369.0L703.6 366.2L704.0 366.2L704.5 366.2L704.9 366.2L705.4 366.2L705.8 363.5L706.3 363.5L706.7 363.5L707.1 363.5L707.6 363.5L708.0 360.7L708.5 360.7L708.9 360.7L709.3 357.9L709.8 357.9L710.2 357.9L710.7 357.9L711.1 355.1L711.6 355.1L712.0 355.1L712.4 355.1L712.9 352.4L713.3 354.9L713.8 352.3L714.2 349.8L714.6 352.1L715.1 349.6L715.5 349.4L716.0 347.1L716.4 346.8L716.8 346.6L717.3 344.3L717.7 344.0L718.2 341.8L718.6 341.5L719.1 341.1L719.5 340.7L719.9 340.4L720.4 338.2L720.8 336.0L721.3 335.7L721.7 333.5L722.1 333.1L722.6 332.7L723.0 330.5L723.5 330.2L723.9 332.1L724.3 329.8L724.8 327.3L725.2 327.2L725.7 327.2L726.1 324.5L726.6 324.5L727.0 321.7L727.4 324.5L727.9 321.7L728.3 321.7L728.8 321.7L729.2 321.7L729.6 318.9L730.1 321.7L730.5 318.9L731.0 318.9L731.4 316.1L731.9 318.9L732.3 318.9L732.7 318.9L733.2 318.9L733.6 318.9L734.1 316.1L734.5 316.1L734.9 316.1L735.4 318.9L735.8 316.1L736.3 316.1L736.7 316.1L737.1 316.1L737.6 318.9L738.0 316.1L738.5 316.1L738.9 316.1L739.4 316.1L739.8 318.9L740.2 318.9L740.7 318.9L741.1 316.1L741.6 316.1L742.0 318.9L742.4 318.9L742.9 316.1L743.3 318.9L743.8 318.9L744.2 318.9L744.6 316.1L745.1 316.1L745.5 318.9L746.0 316.1L746.4 316.1L746.9 316.1L747.3 316.1L747.7 316.1L748.2 316.1L748.6 318.9L749.1 318.9L749.5 318.9L749.9 316.1L750.4 318.9L750.8 318.9L751.3 318.9L751.7 316.1L752.2 318.9L752.6 316.1L753.0 318.9L753.5 316.1L753.9 316.1L754.4 316.1L754.8 318.9L755.2 318.9L755.7 318.9L756.1 316.1L756.6 316.1L757.0 316.1L757.4 316.1L757.9 318.9L758.3 318.9L758.8 318.9L759.2 316.1L759.7 318.9L760.1 318.9L760.5 316.1L761.0 316.1L761.4 318.9L761.9 316.1L762.3 318.9L762.7 318.9L763.2 318.9L763.6 318.9L764.1 321.7L764.5 318.9L764.9 318.9L765.4 318.9L765.8 321.7L766.3 318.9L766.7 318.9L767.2 318.9L767.6 318.9L768.0 318.9L768.5 318.9L768.9 321.7L769.4 318.9L769.8 318.9L770.2 318.9L770.7 318.9L771.1 318.9L771.6 318.9L772.0 318.9L772.4 316.1L772.9 316.1L773.3 316.1L773.8 316.1L774.2 313.3L774.7 316.1L775.1 313.3L775.5 310.5L776.0 313.3L776.4 313.3L776.9 313.3L777.3 310.5L777.7 310.5L778.2 307.7L778.6 307.7L779.1 307.7L779.5 307.7L780.0 307.7L780.4 307.7L780.8 305.0L781.3 307.7L781.7 305.0L782.2 305.0L782.6 305.0L783.0 302.2L783.5 302.2L783.9 302.2L784.4 299.4L784.8 299.4L785.2 299.4L785.7 299.4L786.1 299.4L786.6 299.4L787.0 299.4L787.5 296.6L787.9 296.6L788.3 296.6L788.8 293.8L789.2 293.8L789.7 293.8L790.1 293.8L790.5 293.8L791.0 291.0L791.4 291.0L791.9 288.2L792.3 291.0L792.7 288.2L793.2 291.0L793.6 288.2L794.1 288.2L794.5 291.0L795.0 288.2L795.4 285.5L795.8 288.2L796.3 285.5L796.7 285.5L797.2 285.5L797.6 285.5L798.0 282.7L798.5 285.5L798.9 282.7L799.4 282.7L799.8 282.7L800.3 282.7L800.7 282.7L801.1 282.7L801.6 282.7L802.0 279.9L802.5 279.9L802.9 279.9L803.3 279.9L803.8 277.1L804.2 277.1L804.7 274.3L805.1 274.3L805.5 274.3L806.0 274.3L806.4 274.3L806.9 274.3L807.3 271.5L807.8 271.5L808.2 268.7L808.6 268.7L809.1 268.7L809.5 268.7L810.0 268.7L810.4 268.7L810.8 266.0L811.3 266.0L811.7 266.0L812.2 266.0L812.6 266.0L813.0 266.0L813.5 263.2L813.9 266.0L814.4 266.0L814.8 266.0L815.3 266.0L815.7 263.2L816.1 263.2L816.6 260.4L817.0 263.2L817.5 263.2L817.9 263.2L818.3 260.4L818.8 260.4L819.2 260.4L819.7 260.4L820.1 260.4L820.6 260.4L821.0 260.4L821.4 260.4L821.9 260.4L822.3 260.4L822.8 260.4L823.2 263.2L823.6 260.4L824.1 260.4L824.5 260.4L825.0 260.4L825.4 260.4L825.8 260.4L826.3 260.4L826.7 263.2L827.2 263.2L827.6 260.4L828.1 263.2L828.5 260.4L828.9 260.4L829.4 263.2L829.8 260.4L830.3 263.2L830.7 263.2L831.1 263.2L831.6 263.2L832.0 260.4L832.5 263.2L832.9 260.4L833.3 260.4L833.8 260.4L834.2 263.2L834.7 260.4L835.1 260.4L835.6 260.4L836.0 260.4L836.4 260.4L836.9 260.4L837.3 260.4L837.8 260.4L838.2 257.6L838.6 260.4L839.1 257.6L839.5 257.6L840.0 257.6L840.4 257.6L840.9 257.6L841.3 254.8L841.7 257.6L842.2 254.8L842.6 254.8L843.1 254.8L843.5 254.8L843.9 254.8L844.4 257.6L844.8 254.8L845.3 254.8L845.7 254.8L846.1 254.8L846.6 254.8L847.0 254.8L847.5 252.0L847.9 254.8L848.4 252.0L848.8 252.0L849.2 249.2L849.7 252.0L850.1 254.8L850.6 254.8L851.0 252.0L851.4 252.0L851.9 252.0L852.3 252.0L852.8 254.8L853.2 252.0L853.6 252.0L854.1 249.2L854.5 254.8L855.0 252.0L855.4 254.8L855.9 252.0L856.3 252.0L856.7 252.0L857.2 252.0L857.6 254.8L858.1 254.8L858.5 254.8L858.9 252.0L859.4 252.0L859.8 252.0L860.3 252.0L860.7 252.0L861.2 252.0L861.6 252.0L862.0 252.0L862.5 252.0L862.9 249.2L863.4 252.0L863.8 252.0L864.2 249.2L864.7 249.2L865.1 249.2L865.6 249.2L866.0 249.2L866.4 249.2L866.9 249.2L867.3 249.2L867.8 249.2L868.2 246.5L868.7 249.2L869.1 249.2L869.5 246.5L870.0 246.5L870.4 249.2L870.9 246.5L871.3 246.5L871.7 246.5L872.2 246.5L872.6 246.5L873.1 246.5L873.5 246.5L873.9 246.5L874.4 246.5L874.8 246.5L875.3 243.7L875.7 246.5L876.2 246.5L876.6 246.5L877.0 246.5L877.5 249.2L877.9 246.5L878.4 246.5L878.8 246.5L879.2 249.2L879.7 246.5L880.1 246.5L880.6 246.5L881.0 249.2L881.5 249.2L881.9 246.5L882.3 246.5L882.8 249.2L883.2 249.2L883.7 246.5L884.1 249.2L884.5 249.2L885.0 249.2L885.4 249.2L885.9 249.2L886.3 249.2L886.7 249.2L887.2 249.2L887.6 249.2L888.1 249.2L888.5 252.0L889.0 252.0L889.4 252.0L889.8 249.2L890.3 252.0L890.7 249.2L891.2 252.0L891.6 252.0L892.0 252.0L892.5 252.0L892.9 252.0L893.4 252.0L893.8 252.0L894.2 252.0L894.7 252.0L895.1 252.0L895.6 252.0L896.0 254.8L896.5 252.0L896.9 252.0L897.3 252.0L897.8 252.0L898.2 252.0L898.7 252.0L899.1 254.8L899.5 254.8L900.0 254.8L900.4 252.0L900.9 252.0L901.3 254.8L901.8 252.0L902.2 252.0L902.6 252.0L903.1 252.0L903.5 252.0L904.0 254.8L904.4 254.8L904.8 252.0L905.3 252.0L905.7 254.8L906.2 254.8L906.6 254.8L907.0 254.8L907.5 254.8L907.9 254.8L908.4 254.8L908.8 252.0L909.3 254.8L909.7 254.8L910.1 254.8L910.6 254.8L911.0 254.8L911.5 257.6L911.9 254.8L912.3 257.6L912.8 257.6L913.2 257.6L913.7 257.6L914.1 257.6L914.5 257.6L915.0 257.6L915.4 257.6L915.9 257.6L916.3 257.6L916.8 257.6L917.2 260.4L917.6 257.6L918.1 257.6L918.5 257.6L919.0 257.6L919.4 257.6L919.8 257.6L920.3 257.6L920.7 260.4L921.2 257.6L921.6 260.4L922.1 260.4L922.5 257.6L922.9 260.4L923.4 260.4L923.8 260.4L924.3 260.4L924.7 260.4L925.1 257.6L925.6 260.4L926.0 260.4L926.5 260.4L926.9 260.4L927.3 257.6L927.8 260.4L928.2 260.4L928.7 260.4L929.1 263.2L929.6 257.6L930.0 260.4L930.4 260.4L930.9 260.4L931.3 260.4L931.8 260.4L932.2 260.4L932.6 260.4L933.1 260.4L933.5 263.2L934.0 263.2L934.4 263.2L934.8 260.4L935.3 260.4L935.7 260.4L936.2 260.4L936.6 260.4L937.1 263.2L937.5 263.2L937.9 260.4L938.4 263.2L938.8 263.2L939.3 263.2L939.7 260.4L940.1 263.2L940.6 263.2L941.0 263.2L941.5 263.2L941.9 266.0L942.4 266.0L942.8 268.7L943.2 263.2L943.7 263.2L944.1 266.0L944.6 266.0L945.0 266.0L945.4 263.2L945.9 268.7L946.3 268.7L946.8 268.7L947.2 266.0L947.6 268.7L948.1 268.7L948.5 268.7L949.0 268.7L949.4 271.5L949.9 268.7L950.3 268.7L950.7 271.5L951.2 271.5L951.6 271.5L952.1 271.5L952.5 271.5L952.9 271.5L953.4 274.3L953.8 274.3L954.3 274.3L954.7 271.5L955.1 271.5L955.6 274.3L956.0 274.3L956.5 274.3L956.9 274.3L957.4 274.3L957.8 277.1L958.2 274.3L958.7 277.1L959.1 277.1L959.6 277.1L960.0 279.9L960.4 279.9L960.9 279.9L961.3 277.1L961.8 277.1L962.2 279.9L962.7 277.1L963.1 279.9L963.5 282.7L964.0 279.9L964.4 279.9L964.9 279.9L965.3 282.7L965.7 282.7L966.2 279.9L966.6 282.7L967.1 282.7L967.5 282.7L967.9 282.7L968.4 285.5L968.8 285.5L969.3 285.5L969.7 285.5L970.2 285.5L970.6 288.2L971.0 288.2L971.5 288.2L971.9 288.2L972.4 291.0L972.8 288.2L973.2 291.0L973.7 288.2L974.1 291.0L974.6 291.0L975.0 291.0L975.4 291.0L975.9 291.0L976.3 293.8L976.8 293.8L977.2 291.0L977.7 293.8L978.1 296.6L978.5 293.8L979.0 293.8L979.4 293.8L979.9 291.0L980.3 296.6L980.7 296.6L981.2 293.8L981.6 296.6L982.1 296.6L982.5 296.6L983.0 296.6L983.4 296.6L983.8 296.6L984.3 296.6L984.7 296.6L985.2 296.6L985.6 299.4L986.0 299.4L986.5 299.4L986.9 299.4L987.4 296.6L987.8 296.6L988.2 296.6L988.7 299.4L989.1 296.6L989.6 299.4L990.0 299.4L990.5 296.6L990.9 299.4L991.3 296.6L991.8 296.6L992.2 299.4L992.7 296.6L993.1 299.4L993.5 296.6L994.0 299.4L994.4 296.6L994.9 296.6L995.3 299.4L995.7 299.4" fill="none" stroke="#0070c0" stroke-width="3.6" stroke-linecap="round" stroke-linejoin="round" stroke-dasharray="8.6 11.8"/>
<path d="M633.5 343.8H658.5" stroke="#0070c0" stroke-width="4.7" stroke-linecap="round" fill="none"/>
<rect x="632.7" y="340.7" width="26.6" height="6.2" rx="1.2" fill="#0070c0"/>
<path d="M626.0 343.8H629.0" stroke="#0070c0" stroke-width="4.1" stroke-linecap="round" fill="none"/>
<rect x="625.2" y="341.0" width="4.6" height="5.6" rx="1.2" fill="#0070c0"/>
<path d="M819.0 260.9H836.0" stroke="#0070c0" stroke-width="4.3" stroke-linecap="round" fill="none"/>
<rect x="818.2" y="258.0" width="18.6" height="5.8" rx="1.2" fill="#0070c0"/>
<path d="M873.0 246.2H880.0" stroke="#0070c0" stroke-width="4.1" stroke-linecap="round" fill="none"/>
<rect x="872.2" y="243.4" width="8.6" height="5.6" rx="1.2" fill="#0070c0"/>
<path d="M146.5 558.2H153.5" stroke="#0070c0" stroke-width="5.0" stroke-linecap="round" fill="none"/>
<rect x="145.7" y="555.0" width="8.6" height="6.5" rx="1.2" fill="#0070c0"/>
<path d="M277.5 301.3H285.0" stroke="#0070c0" stroke-width="3.9" stroke-linecap="round" fill="none"/>
<rect x="276.7" y="298.6" width="9.1" height="5.4" rx="1.2" fill="#0070c0"/>
<path d="M359.0 301.5H362.5" stroke="#0070c0" stroke-width="3.9" stroke-linecap="round" fill="none"/>
<rect x="358.2" y="298.8" width="5.1" height="5.4" rx="1.2" fill="#0070c0"/>
<path d="M110.8 297.8H118.0" stroke="#0070c0" stroke-width="4.1" stroke-linecap="round" fill="none"/>
<rect x="110.0" y="295.0" width="8.8" height="5.6" rx="1.2" fill="#0070c0"/>
<path d="M600.0 327.0H611.0" stroke="#0070c0" stroke-width="3.6" stroke-linecap="round" fill="none"/>
<path d="M571.0 346.3H581.0" stroke="#0070c0" stroke-width="3.7" stroke-linecap="round" fill="none"/>
<rect x="570.2" y="343.7" width="11.6" height="5.2" rx="1.2" fill="#0070c0"/>
<path d="M520.0 258.0H531.0" stroke="#0070c0" stroke-width="3.1" stroke-linecap="round" fill="none"/>
<rect x="519.2" y="255.7" width="12.6" height="4.6" rx="1.2" fill="#0070c0"/>
<path d="M454.0 221.0H459.0" stroke="#0070c0" stroke-width="3.1" stroke-linecap="round" fill="none"/>
<rect x="453.2" y="218.7" width="6.6" height="4.6" rx="1.2" fill="#0070c0"/>
<path d="M984.0 297.9H996.0" stroke="#0070c0" stroke-width="4.1" stroke-linecap="round" fill="none"/>
<rect x="983.2" y="295.1" width="13.6" height="5.6" rx="1.2" fill="#0070c0"/>
<path d="M937.0 265.5H947.0" stroke="#0070c0" stroke-width="4.0" stroke-linecap="round" fill="none"/>
<path d="M493.8 289.4H498.3" stroke="#0070c0" stroke-width="3.5" stroke-linecap="round" fill="none"/>
<rect x="493.0" y="286.9" width="6.1" height="5.0" rx="1.2" fill="#0070c0"/>
<path d="M572.0 346.4H578.0" stroke="#0070c0" stroke-width="3.9" stroke-linecap="round" fill="none"/>
<rect x="571.2" y="343.7" width="7.6" height="5.4" rx="1.2" fill="#0070c0"/>
<path d="M734.0 317.3H744.5" stroke="#0070c0" stroke-width="3.5" stroke-linecap="round" fill="none"/>
<path d="M748.5 317.3H758.0" stroke="#0070c0" stroke-width="3.5" stroke-linecap="round" fill="none"/>
<path d="M763.5 318.8H770.0" stroke="#0070c0" stroke-width="3.9" stroke-linecap="round" fill="none"/>
<rect x="762.7" y="316.1" width="8.1" height="5.4" rx="1.2" fill="#0070c0"/>
<path clip-path="url(#cb)" d="M116.2 966.0C127.5 966.1 138.6 966.1 150.0 966.2C161.6 966.3 175.9 966.5 185.0 966.5C190.2 966.5 193.6 966.6 196.2 965.5C198.0 964.8 198.9 964.0 200.0 962.5C201.6 960.3 202.6 956.5 203.8 952.5C205.3 947.0 206.4 940.0 207.6 932.5C209.1 923.0 210.4 910.1 211.5 900.0C212.5 891.1 213.2 883.5 214.1 875.0C215.1 866.1 216.1 856.4 217.1 847.5C218.0 839.0 219.0 830.6 219.9 822.5C220.7 814.8 221.2 807.1 222.3 800.0C223.3 793.5 224.5 786.9 225.9 781.6C227.0 777.4 227.8 773.1 229.5 770.6C230.7 768.8 232.3 767.7 233.9 767.0C235.3 766.4 236.6 766.2 238.3 766.2C240.5 766.2 243.5 767.0 245.7 767.7C247.6 768.3 249.1 769.3 250.8 770.2C252.5 771.1 254.2 772.2 255.9 773.3C257.6 774.4 259.3 775.6 261.0 776.9C262.8 778.2 264.6 779.8 266.2 781.2C267.7 782.6 269.2 783.8 270.6 785.3C272.1 786.9 273.6 788.6 275.0 790.4C276.5 792.3 277.9 794.3 279.4 796.3C280.8 798.2 282.2 800.2 283.7 802.1C285.1 804.0 286.6 805.9 288.1 807.7C289.5 809.4 291.0 810.9 292.5 812.4C294.0 813.9 295.6 815.4 296.9 816.8C298.0 817.9 298.9 818.7 299.9 820.0C301.1 821.5 302.5 823.3 303.5 825.5C304.8 828.3 305.6 832.2 306.4 835.8C307.3 839.6 307.9 843.4 308.6 847.5C309.4 852.1 310.2 856.4 310.8 862.1C311.6 869.9 311.8 880.5 312.5 890.0C313.2 900.1 314.3 909.7 315.1 921.0C316.1 934.7 317.2 951.1 318.1 966.4C319.1 982.0 319.9 998.2 320.8 1013.6C321.6 1028.4 322.4 1042.8 323.3 1057.2C324.2 1071.3 325.1 1085.6 326.0 1099.2C326.9 1112.0 327.7 1124.6 328.7 1136.3C329.6 1146.8 330.5 1157.5 331.7 1166.2C332.7 1172.9 333.5 1179.0 335.0 1184.0C336.1 1187.9 337.4 1191.4 339.1 1194.0C340.5 1196.1 342.2 1198.0 344.0 1199.0C345.5 1199.9 347.0 1200.3 348.6 1200.3C350.4 1200.3 352.4 1199.2 354.1 1198.1C356.0 1196.9 357.7 1194.7 359.5 1193.0C361.3 1191.2 363.0 1189.3 365.0 1187.5C367.1 1185.6 369.7 1184.2 371.8 1182.0C374.2 1179.5 376.4 1176.3 378.6 1173.0C381.0 1169.3 383.1 1164.7 385.4 1160.8C387.6 1157.0 389.9 1153.4 392.2 1149.9C394.4 1146.6 396.7 1143.5 399.0 1140.3C401.3 1137.1 404.0 1134.3 405.9 1130.8C407.9 1127.1 409.2 1123.2 410.6 1118.6C412.3 1113.0 413.8 1105.8 415.0 1099.5C416.2 1093.5 417.0 1087.0 417.8 1081.7C418.4 1077.4 418.8 1075.0 419.3 1070.0C420.2 1061.0 421.3 1044.3 422.2 1032.5C423.1 1022.0 423.7 1013.1 424.5 1002.6C425.3 991.0 426.2 976.7 427.1 966.1C427.8 957.7 428.5 950.7 429.2 943.7C429.8 937.5 430.4 931.6 431.1 926.0C431.7 920.9 432.3 915.9 433.0 911.2C433.6 907.1 434.3 902.9 435.1 899.5C435.8 896.7 436.5 893.9 437.4 892.1C438.0 891.0 438.5 890.1 439.2 889.6C439.7 889.2 440.4 888.9 441.0 888.9C441.6 888.9 442.3 889.3 442.9 889.7C443.7 890.2 444.3 891.1 445.1 892.1C446.4 893.7 448.0 896.5 449.5 898.7C451.0 900.9 452.3 903.0 453.9 905.4C455.7 908.1 457.8 911.4 459.8 914.2C461.7 916.8 463.6 919.4 465.7 921.6C467.6 923.6 469.3 925.0 471.6 926.7C474.3 928.7 478.0 930.2 480.8 932.6C483.8 935.1 486.3 938.4 489.0 941.3C491.7 944.2 495.2 947.8 497.2 950.0C498.4 951.3 498.8 952.2 500.0 953.3C501.7 954.9 504.8 956.5 507.0 958.2C509.0 959.8 511.1 961.2 512.6 963.1C514.1 965.0 515.1 967.0 516.1 969.4C517.3 972.2 518.0 975.6 518.9 979.2C519.9 983.4 520.9 988.3 521.7 993.2C522.6 998.5 523.2 1004.0 524.1 1010.0C525.1 1016.9 526.4 1025.5 527.3 1032.4C528.1 1038.4 528.6 1043.6 529.2 1049.2C529.8 1054.8 530.4 1060.4 531.1 1066.0C531.8 1071.6 532.5 1077.4 533.3 1082.9C534.0 1088.2 534.8 1093.8 535.6 1098.3C536.3 1101.9 537.0 1105.3 537.7 1108.1C538.3 1110.3 538.5 1112.6 539.4 1113.9C540.0 1114.8 540.9 1115.8 541.7 1115.8C542.5 1115.8 543.6 1114.7 544.3 1113.6C545.5 1111.8 546.0 1108.2 546.9 1105.3C547.8 1102.2 548.8 1098.8 549.7 1095.5C550.6 1092.2 551.5 1089.2 552.5 1085.7C553.6 1081.8 554.7 1077.2 556.0 1073.1C557.3 1069.2 558.6 1065.4 560.2 1061.8C561.8 1058.2 563.6 1054.5 565.8 1051.3C567.9 1048.2 570.2 1045.4 572.8 1042.9C575.3 1040.5 578.2 1038.5 581.2 1036.6C584.3 1034.7 588.1 1033.1 591.0 1031.7C593.2 1030.6 594.9 1029.8 597.0 1029.0C599.1 1028.2 601.3 1027.3 603.6 1026.7C606.0 1026.0 608.8 1025.8 611.1 1025.1C613.1 1024.5 615.0 1024.1 616.5 1023.0C618.0 1021.8 619.2 1020.0 620.2 1018.2C621.3 1016.3 622.1 1014.1 622.9 1011.7C623.9 1008.8 624.8 1005.5 625.6 1002.0C626.6 998.0 627.5 993.4 628.3 989.2C629.1 985.2 629.7 981.3 630.4 977.3C631.1 973.4 631.9 969.6 632.6 965.5C633.3 961.1 634.0 956.1 634.7 951.6C635.4 947.2 636.1 942.7 636.9 938.7C637.6 935.2 638.2 931.9 639.0 929.0C639.7 926.6 640.3 924.3 641.2 922.6C641.8 921.4 642.5 920.3 643.3 919.7C643.9 919.3 644.6 919.1 645.3 919.1C646.1 919.1 646.9 920.0 647.6 920.9C648.5 922.1 649.1 923.9 649.8 925.8C650.7 928.2 651.6 931.4 652.5 934.4C653.5 937.8 654.6 941.6 655.7 945.1C656.7 948.4 657.8 951.7 658.9 954.8C659.9 957.8 660.9 960.7 662.1 963.4C663.2 966.0 664.4 968.8 665.9 970.9C667.2 972.8 668.6 974.4 670.2 975.7C671.8 977.0 673.8 978.1 675.6 978.9C677.3 979.6 679.1 980.0 680.9 980.3C682.7 980.6 684.5 980.6 686.3 980.6C688.1 980.6 689.9 980.1 691.7 979.5C693.8 978.9 695.9 977.8 698.1 976.8C700.4 975.8 702.7 974.9 705.0 973.6C707.6 972.2 710.5 970.2 712.9 968.7C714.9 967.4 716.5 965.9 718.3 965.0C719.8 964.2 721.3 963.4 722.6 963.4C723.6 963.4 724.4 963.2 725.2 963.6C726.2 964.0 727.1 965.0 727.9 966.1C729.0 967.6 729.8 969.8 730.6 972.0C731.6 974.6 732.4 977.6 733.3 980.6C734.2 983.7 735.1 987.0 736.0 990.2C736.9 993.4 737.8 996.8 738.7 999.9C739.6 1002.9 740.5 1005.9 741.4 1008.5C742.2 1010.8 743.0 1013.3 744.0 1014.9C744.7 1016.1 745.5 1017.0 746.2 1017.6C746.7 1018.0 747.3 1018.4 747.8 1018.4C748.4 1018.4 749.0 1017.9 749.6 1017.3C750.4 1016.5 751.0 1015.3 751.6 1013.9C752.4 1012.1 753.0 1009.8 753.7 1007.4C754.6 1004.3 755.5 1000.3 756.4 996.7C757.3 993.1 758.2 989.5 759.1 985.9C760.0 982.3 760.9 978.7 761.8 975.2C762.7 971.9 763.5 968.6 764.4 965.5C765.3 962.5 766.1 959.6 767.1 956.9C768.1 954.3 769.2 951.6 770.4 949.4C771.5 947.4 772.6 945.6 774.1 944.0C775.6 942.4 777.5 940.8 779.5 939.7C781.5 938.5 783.7 937.8 785.9 937.1C788.0 936.4 790.3 935.8 792.4 935.4C794.2 935.1 795.9 934.9 797.7 934.9C799.5 934.9 801.1 935.4 803.1 935.8C805.4 936.2 808.0 936.6 810.8 937.4C814.1 938.3 818.5 940.3 821.5 941.2C823.6 941.9 825.3 942.7 826.9 942.7C828.1 942.7 829.2 942.5 830.1 942.1C830.9 941.8 831.4 941.4 832.2 940.6C833.8 938.8 836.0 934.4 837.6 930.9C839.3 927.0 840.4 922.2 841.9 918.0C843.3 914.0 844.7 909.2 846.2 906.2C847.2 904.2 848.1 902.4 849.2 901.3C850.0 900.5 850.8 899.7 851.6 899.7C852.4 899.7 853.3 900.5 854.0 901.3C854.9 902.2 855.5 903.5 856.3 905.1C857.5 907.4 858.9 910.7 860.2 913.7C861.6 917.1 863.1 920.7 864.5 924.5C866.0 928.6 867.3 933.3 868.8 937.4C870.2 941.2 871.4 945.3 873.1 948.1C874.4 950.2 875.8 952.1 877.4 953.1C878.6 953.9 879.7 954.1 881.3 954.1C883.8 954.1 887.2 952.6 890.3 951.4C893.8 950.0 897.5 948.2 901.0 946.0C904.7 943.6 908.3 940.4 911.8 937.4C915.4 934.3 919.2 930.6 922.5 927.7C925.2 925.3 927.7 922.8 930.1 921.3C931.9 920.2 933.7 919.1 935.4 919.1C937.2 919.1 939.2 920.7 940.8 922.3C942.9 924.3 944.5 928.2 946.2 930.9C947.7 933.2 948.9 935.8 950.5 937.4C951.8 938.7 953.4 940.0 954.8 940.0C956.3 940.0 957.9 938.1 959.1 936.3C961.0 933.6 962.0 928.7 963.4 924.5C964.9 919.8 966.2 914.2 967.7 909.4C969.1 904.9 970.5 900.6 972.0 896.5C973.4 892.7 974.6 888.7 976.3 885.8C977.6 883.6 978.9 881.5 980.6 880.4C982.0 879.4 983.5 878.9 985.3 878.9C987.7 878.9 990.7 880.6 993.5 881.5C996.3 882.5 999.3 883.7 1002.1 884.7C1004.7 885.7 1007.2 886.6 1009.6 887.5C1011.8 888.3 1013.9 889.0 1016.0 889.8" fill="none" stroke="#0070c0" stroke-width="4" stroke-linecap="round" stroke-linejoin="round"/>
<text transform="translate(64.7 583.5) scale(0.940 1)" font-family="Liberation Sans, Arial, sans-serif" font-size="21.6" text-anchor="end" fill="#000" stroke="#000" stroke-width="0.3">-8</text>
<rect x="39.6" y="574.7" width="1.3" height="1.3" fill="#b4b4b4"/>
<text transform="translate(64.7 513.8) scale(0.940 1)" font-family="Liberation Sans, Arial, sans-serif" font-size="21.6" text-anchor="end" fill="#000" stroke="#000" stroke-width="0.3">-6</text>
<rect x="39.6" y="505.0" width="1.3" height="1.3" fill="#b4b4b4"/>
<text transform="translate(64.7 444.1) scale(0.940 1)" font-family="Liberation Sans, Arial, sans-serif" font-size="21.6" text-anchor="end" fill="#000" stroke="#000" stroke-width="0.3">-4</text>
<rect x="39.6" y="435.4" width="1.3" height="1.3" fill="#b4b4b4"/>
<text transform="translate(64.7 374.4) scale(0.940 1)" font-family="Liberation Sans, Arial, sans-serif" font-size="21.6" text-anchor="end" fill="#000" stroke="#000" stroke-width="0.3">-2</text>
<rect x="39.6" y="365.7" width="1.3" height="1.3" fill="#b4b4b4"/>
<text transform="translate(64.7 304.7) scale(0.940 1)" font-family="Liberation Sans, Arial, sans-serif" font-size="21.6" text-anchor="end" fill="#000" stroke="#000" stroke-width="0.3">0</text>
<rect x="39.6" y="296.0" width="1.3" height="1.3" fill="#b4b4b4"/>
<text transform="translate(64.7 235.1) scale(0.940 1)" font-family="Liberation Sans, Arial, sans-serif" font-size="21.6" text-anchor="end" fill="#000" stroke="#000" stroke-width="0.3">2</text>
<rect x="39.6" y="226.3" width="1.3" height="1.3" fill="#b4b4b4"/>
<text transform="translate(64.7 165.4) scale(0.940 1)" font-family="Liberation Sans, Arial, sans-serif" font-size="21.6" text-anchor="end" fill="#000" stroke="#000" stroke-width="0.3">4</text>
<rect x="39.6" y="156.6" width="1.3" height="1.3" fill="#b4b4b4"/>
<text transform="translate(64.7 95.7) scale(0.940 1)" font-family="Liberation Sans, Arial, sans-serif" font-size="21.6" text-anchor="end" fill="#000" stroke="#000" stroke-width="0.3">6</text>
<rect x="39.6" y="87.0" width="1.3" height="1.3" fill="#b4b4b4"/>
<text transform="translate(64.7 26.0) scale(0.940 1)" font-family="Liberation Sans, Arial, sans-serif" font-size="21.6" text-anchor="end" fill="#000" stroke="#000" stroke-width="0.3">8</text>
<rect x="39.6" y="17.3" width="1.3" height="1.3" fill="#b4b4b4"/>
<text transform="translate(121.0 611.6) scale(0.940 1)" font-family="Liberation Sans, Arial, sans-serif" font-size="21.6" text-anchor="middle" fill="#000" stroke="#000" stroke-width="0.3">0</text>
<text transform="translate(209.3 611.6) scale(0.940 1)" font-family="Liberation Sans, Arial, sans-serif" font-size="21.6" text-anchor="middle" fill="#000" stroke="#000" stroke-width="0.3">1</text>
<text transform="translate(297.6 611.6) scale(0.940 1)" font-family="Liberation Sans, Arial, sans-serif" font-size="21.6" text-anchor="middle" fill="#000" stroke="#000" stroke-width="0.3">2</text>
<text transform="translate(385.9 611.6) scale(0.940 1)" font-family="Liberation Sans, Arial, sans-serif" font-size="21.6" text-anchor="middle" fill="#000" stroke="#000" stroke-width="0.3">3</text>
<text transform="translate(474.2 611.6) scale(0.940 1)" font-family="Liberation Sans, Arial, sans-serif" font-size="21.6" text-anchor="middle" fill="#000" stroke="#000" stroke-width="0.3">4</text>
<text transform="translate(562.5 611.6) scale(0.940 1)" font-family="Liberation Sans, Arial, sans-serif" font-size="21.6" text-anchor="middle" fill="#000" stroke="#000" stroke-width="0.3">5</text>
<text transform="translate(650.7 611.6) scale(0.940 1)" font-family="Liberation Sans, Arial, sans-serif" font-size="21.6" text-anchor="middle" fill="#000" stroke="#000" stroke-width="0.3">6</text>
<text transform="translate(739.0 611.6) scale(0.940 1)" font-family="Liberation Sans, Arial, sans-serif" font-size="21.6" text-anchor="middle" fill="#000" stroke="#000" stroke-width="0.3">7</text>
<text transform="translate(827.3 611.6) scale(0.940 1)" font-family="Liberation Sans, Arial, sans-serif" font-size="21.6" text-anchor="middle" fill="#000" stroke="#000" stroke-width="0.3">8</text>
<text transform="translate(915.6 611.6) scale(0.940 1)" font-family="Liberation Sans, Arial, sans-serif" font-size="21.6" text-anchor="middle" fill="#000" stroke="#000" stroke-width="0.3">9</text>
<text transform="translate(1003.9 611.6) scale(0.940 1)" font-family="Liberation Sans, Arial, sans-serif" font-size="21.6" text-anchor="middle" fill="#000" stroke="#000" stroke-width="0.3">10</text>
<text transform="translate(63.3 1241.9) scale(0.980 1)" font-family="Liberation Sans, Arial, sans-serif" font-size="23.4" text-anchor="end" fill="#000" stroke="#000" stroke-width="0.3">-8</text>
<text transform="translate(63.3 1175.2) scale(0.980 1)" font-family="Liberation Sans, Arial, sans-serif" font-size="23.4" text-anchor="end" fill="#000" stroke="#000" stroke-width="0.3">-6</text>
<text transform="translate(63.3 1108.6) scale(0.980 1)" font-family="Liberation Sans, Arial, sans-serif" font-size="23.4" text-anchor="end" fill="#000" stroke="#000" stroke-width="0.3">-4</text>
<text transform="translate(63.3 1041.9) scale(0.980 1)" font-family="Liberation Sans, Arial, sans-serif" font-size="23.4" text-anchor="end" fill="#000" stroke="#000" stroke-width="0.3">-2</text>
<text transform="translate(63.3 975.3) scale(0.980 1)" font-family="Liberation Sans, Arial, sans-serif" font-size="23.4" text-anchor="end" fill="#000" stroke="#000" stroke-width="0.3">0</text>
<text transform="translate(63.3 908.6) scale(0.980 1)" font-family="Liberation Sans, Arial, sans-serif" font-size="23.4" text-anchor="end" fill="#000" stroke="#000" stroke-width="0.3">2</text>
<text transform="translate(63.3 842.0) scale(0.980 1)" font-family="Liberation Sans, Arial, sans-serif" font-size="23.4" text-anchor="end" fill="#000" stroke="#000" stroke-width="0.3">4</text>
<text transform="translate(63.3 775.3) scale(0.980 1)" font-family="Liberation Sans, Arial, sans-serif" font-size="23.4" text-anchor="end" fill="#000" stroke="#000" stroke-width="0.3">6</text>
<text transform="translate(63.3 708.7) scale(0.980 1)" font-family="Liberation Sans, Arial, sans-serif" font-size="23.4" text-anchor="end" fill="#000" stroke="#000" stroke-width="0.3">8</text>
<text transform="translate(84.6 1272.8) scale(0.980 1)" font-family="Liberation Sans, Arial, sans-serif" font-size="23.4" text-anchor="middle" fill="#000" stroke="#000" stroke-width="0.3">-1.25</text>
<text transform="translate(301.0 1272.8) scale(0.980 1)" font-family="Liberation Sans, Arial, sans-serif" font-size="23.4" text-anchor="middle" fill="#000" stroke="#000" stroke-width="0.3">1.25</text>
<text transform="translate(515.7 1272.8) scale(0.980 1)" font-family="Liberation Sans, Arial, sans-serif" font-size="23.4" text-anchor="middle" fill="#000" stroke="#000" stroke-width="0.3">3.75</text>
<text transform="translate(730.5 1272.8) scale(0.980 1)" font-family="Liberation Sans, Arial, sans-serif" font-size="23.4" text-anchor="middle" fill="#000" stroke="#000" stroke-width="0.3">6.25</text>
<text transform="translate(945.2 1272.8) scale(0.980 1)" font-family="Liberation Sans, Arial, sans-serif" font-size="23.4" text-anchor="middle" fill="#000" stroke="#000" stroke-width="0.3">8.75</text>
<text x="472.7" y="646.6" font-family="Liberation Sans, Arial, sans-serif" font-size="25.8" font-weight="bold" textLength="122" lengthAdjust="spacingAndGlyphs" xml:space="preserve" style="white-space:pre" fill="#000">TIME  (µs)</text>
<text x="487.8" y="1303.9" font-family="Liberation Sans, Arial, sans-serif" font-size="25.4" font-weight="bold" textLength="117" lengthAdjust="spacingAndGlyphs" xml:space="preserve" style="white-space:pre" fill="#000">TIME  (µs)</text>
<text transform="translate(32.0 446.6) rotate(-90)" font-family="Liberation Sans, Arial, sans-serif" font-size="25.4" font-weight="bold" textLength="243.6" lengthAdjust="spacingAndGlyphs" xml:space="preserve" style="white-space:pre" fill="#000">PZT Disk Output  (V)</text>
<text transform="translate(27.9 1096) rotate(-90)" font-family="Liberation Sans, Arial, sans-serif" font-size="25.4" font-weight="bold" textLength="238" lengthAdjust="spacingAndGlyphs" xml:space="preserve" style="white-space:pre" fill="#000">PZT Disk Output  (V)</text>
<text x="498.7" y="683.5" font-family="Liberation Serif, Times New Roman, serif" font-size="26" textLength="28" lengthAdjust="spacingAndGlyphs" fill="#000">(<tspan font-weight="bold">a</tspan>)</text>
<text x="497.2" y="1341.9" font-family="Liberation Serif, Times New Roman, serif" font-size="26" textLength="31" lengthAdjust="spacingAndGlyphs" fill="#000">(<tspan font-weight="bold">b</tspan>)</text>
</svg>
</body></html>
